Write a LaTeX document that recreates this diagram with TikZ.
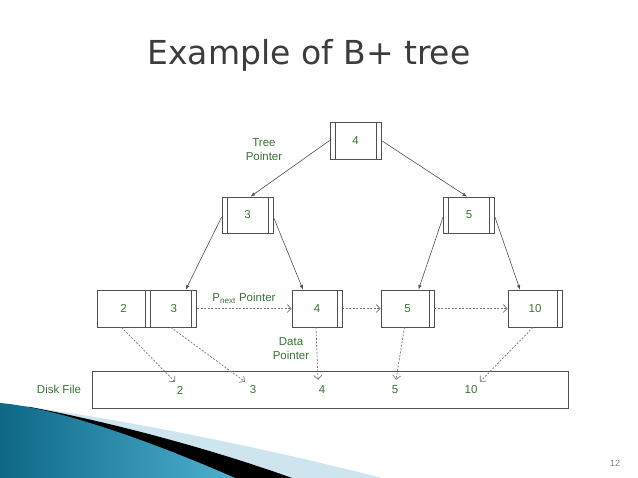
\documentclass[tikz,border=0pt]{standalone}
\usepackage{fontspec}
\setmainfont{Liberation Sans}
\newfontfamily\titlefont{DejaVu Sans}
\usetikzlibrary{arrows,arrows.meta,shapes,positioning}
\definecolor{keygreen}{RGB}{56,116,50}
\definecolor{boxgray}{RGB}{80,80,80}
\definecolor{ptrgray}{RGB}{120,120,120}
\definecolor{titlegray}{RGB}{60,60,60}
\definecolor{swooshdark}{RGB}{14,104,134}
\definecolor{swooshlight}{RGB}{78,176,208}
\definecolor{swooshpale}{RGB}{206,229,239}

\begin{document}
\begin{tikzpicture}[x=1pt,y=-1pt]
    \tikzstyle{every node}+=[inner sep=0pt, text=keygreen, font=\fontsize{11.5}{14}\selectfont]
    \tikzstyle{inner}=[draw=boxgray, line width=0.8pt, minimum width=51pt, minimum height=37pt,
        path picture={
            \draw [boxgray, line width=0.8pt] ([xshift=5pt]path picture bounding box.north west) -- ([xshift=5pt]path picture bounding box.south west);
            \draw [boxgray, line width=0.8pt] ([xshift=-5pt]path picture bounding box.north east) -- ([xshift=-5pt]path picture bounding box.south east);}]
    \tikzstyle{leaf}=[draw=boxgray, line width=0.8pt, minimum height=37pt,
        path picture={
            \draw [boxgray, line width=0.8pt] ([xshift=-5pt]path picture bounding box.north east) -- ([xshift=-5pt]path picture bounding box.south east);}]
    \tikzstyle{treeptr}=[draw=boxgray, line width=0.6pt, -latex]
    \tikzstyle{nextptr}=[draw=ptrgray, line width=0.7pt, dash pattern=on 2pt off 1.5pt, -{Straight Barb[length=4pt,width=8pt,line width=0.7pt]}]

    % page
    \fill [white] (0,0) rectangle (638,478);
    \useasboundingbox (0,0) rectangle (638,478);

    % corner swoosh
    \fill [swooshpale] (30,407) .. controls (150,424) and (280,452) .. (382,478) -- (0,478) -- (0,405) -- cycle;
    \fill [black] (30,407) .. controls (120,424) and (220,452) .. (292,478) -- (0,478) -- (0,405) -- cycle;
    \shade [left color=swooshdark, right color=swooshlight] (0,403) .. controls (60,408) and (160,445) .. (235,478) -- (0,478) -- cycle;

    % title and page number
    \node [font=\titlefont\fontsize{33}{40}\selectfont, text=titlegray, anchor=base] (title) at (309,65) {Example of B+ tree};
    \node [font=\fontsize{9}{10}\selectfont, text=gray] (page) at (615,463) {12};

    % inner nodes
    \node [inner] (root) at (355.5,140.5) {4};
    \node [inner, minimum height=36pt] (n3) at (247.5,215) {3};
    \node [inner, minimum height=36pt] (n5) at (469,215) {5};

    % leaves
    \node [leaf, minimum width=53pt] (leafa) at (123.5,308.5) {2};
    \node [leaf, minimum width=46pt, right=0pt of leafa] (leafb) {3};
    \node [leaf, minimum width=50pt] (leaf4) at (317,308.5) {4};
    \node [leaf, minimum width=53pt] (leaf5) at (407.5,308.5) {5};
    \node [leaf, minimum width=54pt] (leaf10) at (535,308.5) {10};

    % disk file
    \node [draw=boxgray, line width=0.8pt, minimum width=476pt, minimum height=37.5pt] (disk) at (330,390) {};
    \node (diskname) at (59,389) {Disk File};
    \node (d2) at (180,390) {2};
    \node (d3) at (253,390) {3};
    \node (d4) at (322,390) {4};
    \node (d5) at (395,390) {5};
    \node (d10) at (471,390) {10};

    % labels
    \node [align=center] (treelbl) at (264,150) {Tree\\Pointer};
    \node (nextlbl) at (244,298) {P\textsubscript{next} Pointer};
    \node [align=center] (datalbl) at (291,349) {Data\\Pointer};

    % tree pointers
    \draw [treeptr] (root.west) -- ([xshift=3pt]n3.north);
    \draw [treeptr] (root.east) -- ([xshift=-2pt]n5.north);
    \draw [treeptr] ([yshift=-2pt]n3.west) -- ([xshift=12pt]leafb.north);
    \draw [treeptr] ([yshift=-2pt]n3.east) -- ([xshift=-14pt]leaf4.north);
    \draw [treeptr] ([yshift=-2pt]n5.west) -- ([xshift=11pt]leaf5.north);
    \draw [treeptr] ([yshift=-2pt]n5.east) -- ([xshift=-15pt]leaf10.north);

    % next pointers
    \draw [nextptr] (leafb.east) -- (leaf4.west);
    \draw [nextptr] (leaf4.east) -- (leaf5.west);
    \draw [nextptr] (leaf5.east) -- (leaf10.west);

    % data pointers
    \draw [nextptr] ([xshift=-2pt]leafa.south) -- ([xshift=-5pt,yshift=4pt]d2.north);
    \draw [nextptr] ([xshift=-3pt]leafb.south) -- ([xshift=-8pt,yshift=4pt]d3.north);
    \draw [nextptr] ([xshift=-1pt]leaf4.south) -- ([xshift=-4pt,yshift=6pt]d4.north);
    \draw [nextptr] ([xshift=-3pt]leaf5.south) -- ([xshift=1pt,yshift=6pt]d5.north);
    \draw [nextptr] ([xshift=-2pt]leaf10.south) -- ([xshift=9pt,yshift=4pt]d10.north);
\end{tikzpicture}
\end{document}
